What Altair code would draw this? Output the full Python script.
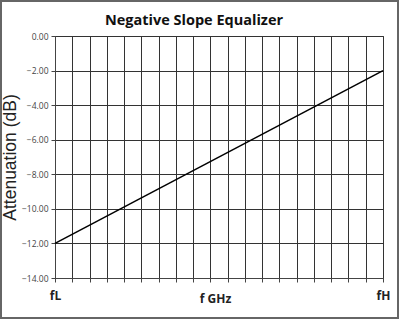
import altair as alt
import pandas as pd

# Data
freq_pos = [0, 19]
attenuation = [-12.0, -2.0]
x_ticks = list(range(0, 20))
y_ticks = [0, -2, -4, -6, -8, -10, -12, -14]

df = pd.DataFrame({"f": freq_pos, "att": attenuation})

W, H = 328, 242
PL, PT, PR, PB = 55, 36, 17, 42

label_expr = "datum.value == 0 ? 'fL' : (datum.value == 19 ? 'fH' : '')"

x_enc = alt.X(
    "f:Q",
    scale=alt.Scale(domain=[0, 19], nice=False, zero=False),
    axis=alt.Axis(
        values=x_ticks,
        labelExpr=label_expr,
        title="f GHz",
        titleFont="Open Sans",
        titleFontWeight="bold",
        titleFontSize=12,
        titleColor="#222",
        titleY=24,
        titleBaseline="alphabetic",
        titleX=W / 2 - 4,
        labelFont="Open Sans",
        labelFontWeight="bold",
        labelFontSize=12,
        labelColor="#222",
        labelPadding=8,
        labelFlush=False,
        labelOverlap=False,
        tickSize=4,
        tickColor="#444",
        domainColor="#444",
        gridColor="#333",
        gridWidth=1,
        grid=True,
    ),
)

y_enc = alt.Y(
    "att:Q",
    scale=alt.Scale(domain=[-14, 0], nice=False, zero=False),
    axis=alt.Axis(
        values=y_ticks,
        format=".2f",
        title="Attenuation (dB)",
        titleFont="Liberation Sans",
        titleFontWeight="normal",
        titleFontSize=17.5,
        titleColor="#222",
        titlePadding=2,
        labelFont="Open Sans",
        labelFontSize=8.5,
        labelColor="#444",
        labelPadding=3,
        tickSize=4,
        tickColor="#444",
        domainColor="#444",
        gridColor="#333",
        gridWidth=1,
    ),
)

line = alt.Chart(df).mark_line(color="black", strokeWidth=1.5).encode(x=x_enc, y=y_enc)

frame = alt.Chart(df).mark_rect(
    fill=None, stroke="#666", strokeWidth=2, clip=False
).encode(
    x=alt.value(-PL + 1),
    x2=alt.value(W + PR - 2),
    y=alt.value(-PT + 1),
    y2=alt.value(H + PB - 2),
)

chart = (
    alt.layer(line, frame)
    .properties(
        width=W,
        height=H,
        padding={"left": PL, "top": PT, "right": PR, "bottom": PB},
        autosize=alt.AutoSizeParams(type="none"),
        background="white",
        title=alt.TitleParams(
            "Negative Slope Equalizer",
            font="Open Sans",
            fontSize=14.5,
            fontWeight="bold",
            color="#111",
            anchor="middle",
            baseline="alphabetic",
            dx=-25,
            dy=39,
            offset=0,
        ),
    )
    .configure_view(stroke="#444", strokeWidth=1)
)

chart.save("out.html", embed_options={"renderer": "svg", "actions": False})
